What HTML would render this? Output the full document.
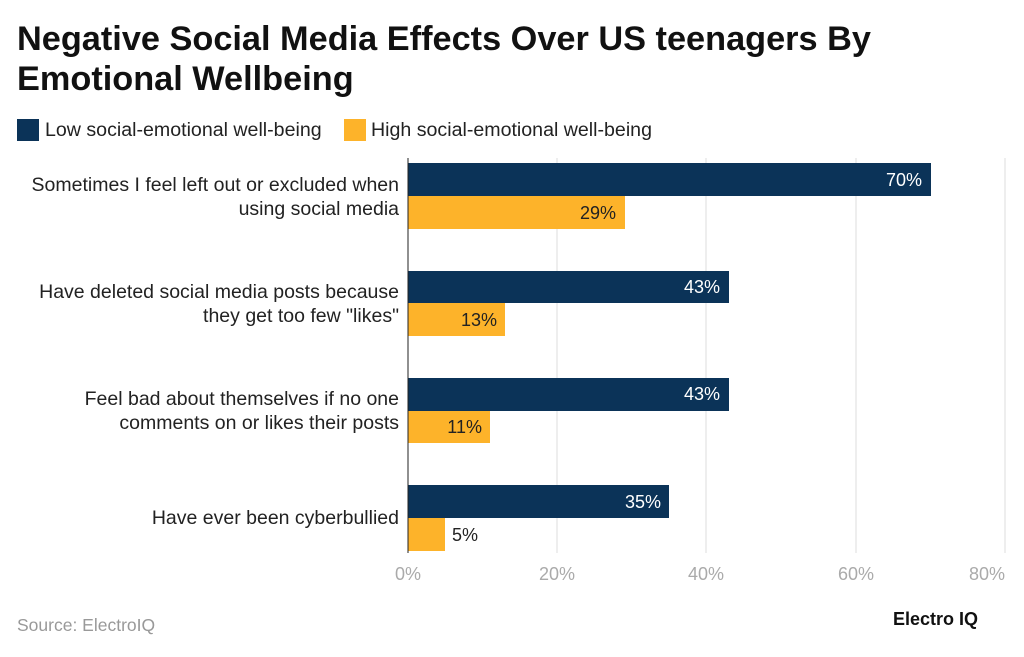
<!DOCTYPE html>
<html><head><meta charset="utf-8"><style>
body{margin:0;background:#fff;font-family:"Liberation Sans",sans-serif;}
</style></head><body>
<svg width="1024" height="652" xmlns="http://www.w3.org/2000/svg" font-family="Liberation Sans, sans-serif">
<rect width="1024" height="652" fill="#fff"/>
<text x="17" y="50" font-size="34.3" font-weight="bold" fill="#111">Negative Social Media Effects Over US teenagers By</text>
<text x="17" y="90" font-size="34.3" font-weight="bold" fill="#111">Emotional Wellbeing</text>
<rect x="17" y="119" width="22" height="22" fill="#0b3358"/>
<text x="45" y="136" font-size="19.6" fill="#222">Low social-emotional well-being</text>
<rect x="344" y="119" width="22" height="22" fill="#fdb32a"/>
<text x="371" y="136" font-size="19.6" fill="#222">High social-emotional well-being</text>
<g stroke="#ddd" stroke-width="1">
<line x1="557" y1="158" x2="557" y2="553"/><line x1="706" y1="158" x2="706" y2="553"/>
<line x1="856" y1="158" x2="856" y2="553"/><line x1="1005" y1="158" x2="1005" y2="553"/>
</g>
<g fill="#0b3358">
<rect x="408" y="163" width="523" height="33"/>
<rect x="408" y="271" width="321" height="32"/>
<rect x="408" y="378" width="321" height="33"/>
<rect x="408" y="485" width="261" height="33"/>
</g>
<g fill="#fdb32a">
<rect x="408" y="196" width="217" height="33"/>
<rect x="408" y="303" width="97" height="33"/>
<rect x="408" y="411" width="82" height="32"/>
<rect x="408" y="518" width="37" height="33"/>
</g>
<line x1="408" y1="158" x2="408" y2="553" stroke="#222" stroke-width="1"/>
<g font-size="18" fill="#fff" text-anchor="end">
<text x="922" y="186">70%</text><text x="720" y="293">43%</text>
<text x="720" y="400">43%</text><text x="661" y="508">35%</text>
</g>
<g font-size="18" fill="#222" text-anchor="end">
<text x="616" y="219">29%</text><text x="497" y="326">13%</text>
<text x="482" y="433">11%</text><text x="478" y="541">5%</text>
</g>
<g font-size="19.5" fill="#222" text-anchor="end">
<text x="399" y="191">Sometimes I feel left out or excluded when</text>
<text x="399" y="215">using social media</text>
<text x="399" y="298">Have deleted social media posts because</text>
<text x="399" y="322">they get too few "likes"</text>
<text x="399" y="405">Feel bad about themselves if no one</text>
<text x="399" y="429">comments on or likes their posts</text>
<text x="399" y="524">Have ever been cyberbullied</text>
</g>
<g font-size="18" fill="#aaa" text-anchor="middle">
<text x="408" y="580">0%</text><text x="557" y="580">20%</text><text x="706" y="580">40%</text>
<text x="856" y="580">60%</text><text x="987" y="580">80%</text>
</g>
<text x="17" y="631" font-size="17.5" fill="#999">Source: ElectroIQ</text>
<text x="893" y="625" font-size="18" font-weight="bold" fill="#111">Electro IQ</text>
</svg>
</body></html>
